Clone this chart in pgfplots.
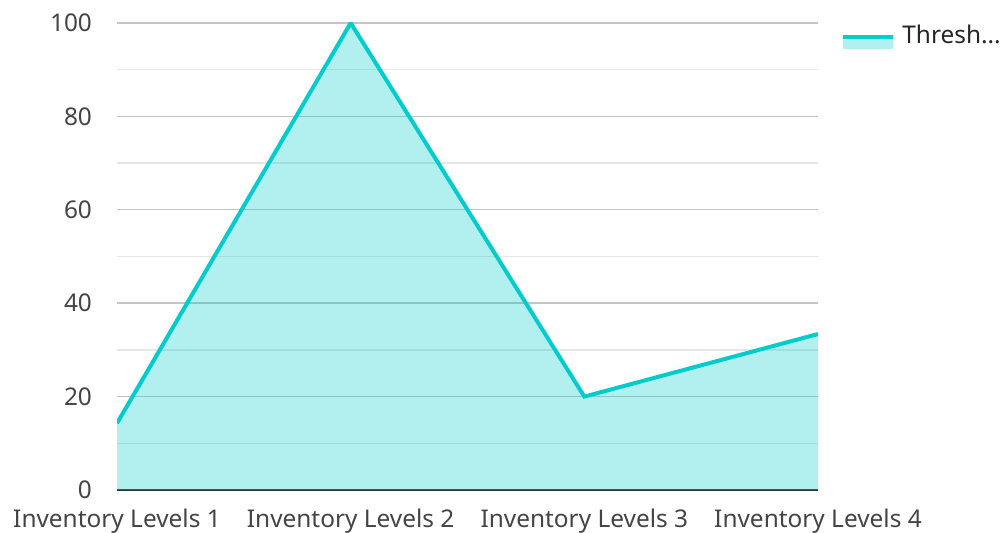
\documentclass[border=0pt]{standalone}
\usepackage{pgfplots}
\pgfplotsset{compat=1.18}
\usepackage{fontspec}
\setmainfont{Noto Sans}
\definecolor{linecol}{RGB}{0,204,204}
\definecolor{tickcol}{RGB}{68,68,68}
\definecolor{majgrid}{RGB}{196,196,196}
\definecolor{mingrid}{RGB}{230,230,230}
\definecolor{basecol}{RGB}{51,51,51}

\begin{document}
\begin{tikzpicture}
% fix the page to the reference's 1004x533 px (1 px = 0.5 pt)
\useasboundingbox (-58.5pt,-21.5pt) rectangle (443.5pt,245pt);
\begin{axis}[
    name=ax,
    at={(0,0)}, anchor=south west,
    scale only axis,
    width=350.5pt, height=233.5pt,
    xmin=0, xmax=3, ymin=0, ymax=100,
    xtick={0,1,2,3},
    xticklabels={Inventory Levels 1,Inventory Levels 2,Inventory Levels 3,Inventory Levels 4},
    ytick={0,20,...,100},
    minor ytick={10,30,...,90},
    axis x line*=bottom, axis y line*=left,
    x axis line style={-, draw=basecol, line width=1pt},
    y axis line style={draw=none},
    major tick length=0pt, minor tick length=0pt,
    ymajorgrids, yminorgrids,
    major grid style={majgrid, line width=0.7pt},
    minor grid style={mingrid, line width=0.7pt},
    tick label style={font=\fontsize{12.2}{14}\selectfont, text=tickcol},
    /pgf/number format/assume math mode=true,
    yticklabel style={xshift=-9pt},
    xticklabel style={yshift=-6pt},
    legend style={at={(1,1)}, anchor=north west, xshift=8.5pt, yshift=3pt,
        draw=none, fill=none, font=\fontsize{12.2}{14}\selectfont, text=black!85,
        legend cell align=left},
    legend image code/.code={
        \path[draw=none, fill=linecol, fill opacity=0.3] (0pt,-0.5pt) rectangle (25pt,-6.5pt);
        \path[draw=linecol, line width=2pt] (0pt,-0.5pt) -- (25pt,-0.5pt);
    },
]
\addplot[draw=none, fill=linecol, fill opacity=0.3, forget plot] coordinates {
    (0,14.3) (1,100) (2,20) (3,33.4)
} \closedcycle;
\addplot[linecol, line width=2pt] coordinates {
    (0,14.3) (1,100) (2,20) (3,33.4)
};
\addlegendentry{\hspace{1.5pt}Thresh...}
\end{axis}
\end{tikzpicture}
\end{document}
